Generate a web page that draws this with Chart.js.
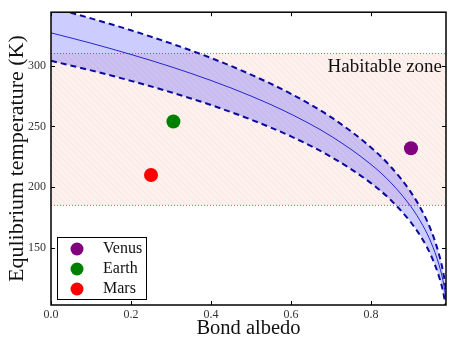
<!DOCTYPE html>
<html>
<head>
<meta charset="utf-8">
<script src="https://cdn.jsdelivr.net/npm/chart.js@4"></script>
<style>
  html, body { margin: 0; padding: 0; background: #fff; }
  #wrap { width: 460px; height: 347px; }
</style>
</head>
<body>
<div id="wrap"><canvas id="chartAlbedo"></canvas></div>
<script>
// data
const albedo   = [0, 0.1, 0.2, 0.3, 0.4, 0.5, 0.6, 0.7, 0.8, 0.85, 0.9, 0.93, 0.95, 0.97, 0.98, 0.99];
const tempMid  = [327, 318.5, 309.2, 299.1, 287.8, 275.0, 260.1, 242.0, 218.7, 203.5, 183.9, 168.2, 154.6, 136.1, 123.0, 103.4];
const tempLow  = [304, 296.1, 287.5, 278.1, 267.6, 255.6, 241.8, 225.0, 203.3, 189.2, 170.9, 156.4, 143.8, 126.5, 114.3, 96.1];
const tempHigh = [348, 338.9, 329.1, 318.3, 306.3, 292.6, 276.8, 257.6, 232.7, 216.6, 195.7, 179.0, 164.6, 144.8, 130.9, 110.0];

const habitable = [185, 310]; // K
const planets = ['Venus', 'Earth', 'Mars'];
const planetAlbedo = [0.9, 0.306, 0.25];
const planetTemp = [232, 254, 210];
const planetColors = ['#800080', '#008000', '#ff0000'];

const xRange = [0, 0.9875];
const yRange = [103, 344];
const xTicks = [0.0, 0.2, 0.4, 0.6, 0.8];
const yTicks = [150, 200, 250, 300];

const serif = '"Liberation Serif", "DejaVu Serif", serif';

function xy(xs, ys) { return xs.map((v, i) => ({ x: v, y: ys[i] })); }

// faint diagonal hatch for the habitable zone
function hatch() {
  const c = document.createElement('canvas');
  c.width = 6; c.height = 6;
  const g = c.getContext('2d');
  g.fillStyle = '#fdf1ee';
  g.fillRect(0, 0, 6, 6);
  g.strokeStyle = 'rgba(235,180,170,0.2)';
  g.lineWidth = 1;
  g.beginPath(); g.moveTo(-1, -1); g.lineTo(7, 7); g.stroke();
  return g.createPattern(c, 'repeat');
}

const decor = {
  id: 'decor',
  afterDatasetsDraw(chart) {
    const { ctx, chartArea: a, scales: { x, y } } = chart;
    ctx.save();
    // label
    ctx.font = '19px ' + serif;
    ctx.fillStyle = '#111';
    ctx.textAlign = 'right';
    ctx.textBaseline = 'middle';
    ctx.fillText('Habitable zone', a.right - 4, y.getPixelForValue(habitable[1]) + 14);

    // inward ticks
    ctx.strokeStyle = '#000';
    ctx.lineWidth = 1;
    ctx.beginPath();
    xTicks.forEach(v => {
      const px = Math.round(x.getPixelForValue(v)) + 0.5;
      ctx.moveTo(px, a.bottom); ctx.lineTo(px, a.bottom - 4);
      ctx.moveTo(px, a.top); ctx.lineTo(px, a.top + 4);
    });
    yTicks.forEach(v => {
      const py = Math.round(y.getPixelForValue(v)) + 0.5;
      ctx.moveTo(a.left, py); ctx.lineTo(a.left + 4, py);
      ctx.moveTo(a.right, py); ctx.lineTo(a.right - 4, py);
    });
    ctx.stroke();

    // frame
    ctx.lineWidth = 1.5;
    ctx.strokeRect(a.left, a.top, a.right - a.left, a.bottom - a.top);

    // legend box, lower left
    const bx = a.left + 6, bw = 89, bh = 62, by = a.bottom - 6 - bh;
    ctx.fillStyle = '#fff';
    ctx.fillRect(bx, by, bw, bh);
    ctx.lineWidth = 1;
    ctx.strokeRect(bx + 0.5, by + 0.5, bw, bh);
    ctx.textAlign = 'left';
    ctx.font = '16px ' + serif;
    planets.forEach((p, i) => {
      const cy = by + 12 + i * 20;
      ctx.fillStyle = planetColors[i];
      ctx.beginPath(); ctx.arc(bx + 20, cy, 6.5, 0, Math.PI * 2); ctx.fill();
      ctx.fillStyle = '#111';
      ctx.fillText(p, bx + 46, cy);
    });
    ctx.restore();
  }
};

const ctx = document.getElementById('chartAlbedo');
new Chart(ctx, {
  type: 'scatter',
  data: {
    datasets: [
      ...planets.map((p, i) => ({
        label: p,
        data: [{ x: planetAlbedo[i], y: planetTemp[i] }],
        backgroundColor: planetColors[i],
        borderColor: planetColors[i],
        pointRadius: 7,
        borderWidth: 0,
        order: 0
      })),
      {
        label: 'T_eq',
        data: xy(albedo, tempMid),
        showLine: true,
        borderColor: '#2626cc',
        borderWidth: 1,
        pointRadius: 0,
        cubicInterpolationMode: 'monotone',
        order: 1
      },
      {
        label: 'upper',
        data: xy(albedo, tempHigh),
        showLine: true,
        borderColor: '#0a0aa0',
        borderWidth: 2,
        borderDash: [6, 4],
        pointRadius: 0,
        cubicInterpolationMode: 'monotone',
        order: 2
      },
      {
        label: 'lower',
        data: xy(albedo, tempLow),
        showLine: true,
        borderColor: '#0a0aa0',
        borderWidth: 2,
        borderDash: [6, 4],
        pointRadius: 0,
        cubicInterpolationMode: 'monotone',
        fill: '-1',
        backgroundColor: 'rgba(0,0,255,0.2)',
        order: 2
      },
      {
        label: 'hz top',
        data: xy(xRange, [habitable[1], habitable[1]]),
        showLine: true,
        borderColor: '#e05a5a',
        borderWidth: 1,
        borderDash: [1, 2],
        pointRadius: 0,
        order: 5
      },
      {
        label: 'hz bottom',
        data: xy(xRange, [habitable[0], habitable[0]]),
        showLine: true,
        borderColor: '#e05a5a',
        borderWidth: 1,
        borderDash: [1, 2],
        pointRadius: 0,
        fill: '-1',
        backgroundColor: hatch(),
        order: 5
      }
    ]
  },
  options: {
    responsive: true,
    maintainAspectRatio: false,
    animation: false,
    layout: { padding: { top: 11, right: 14, left: 0, bottom: 0 } },
    plugins: {
      legend: { display: false },
      tooltip: { enabled: false }
    },
    scales: {
      x: {
        type: 'linear',
        min: xRange[0],
        max: xRange[1],
        grid: { display: false, drawTicks: false },
        border: { display: false },
        afterBuildTicks: s => { s.ticks = xTicks.map(v => ({ value: v })); },
        afterFit: s => { s.height = 42; },
        ticks: {
          callback: v => v.toFixed(1),
          font: { family: serif, size: 12 },
          color: '#333',
          padding: 3,
          maxRotation: 0
        },
        title: {
          display: true,
          text: 'Bond albedo',
          font: { family: serif, size: 20.5 },
          color: '#111',
          padding: { top: 0, bottom: 6 }
        }
      },
      y: {
        min: yRange[0],
        max: yRange[1],
        grid: { display: false, drawTicks: false },
        border: { display: false },
        afterBuildTicks: s => { s.ticks = yTicks.map(v => ({ value: v })); },
        afterFit: s => { s.width = 51; },
        ticks: {
          font: { family: serif, size: 12 },
          color: '#333',
          padding: 5,
          crossAlign: 'near'
        },
        title: {
          display: true,
          text: 'Equlibrium temperature (K)',
          font: { family: serif, size: 22 },
          color: '#111',
          padding: { top: 4, bottom: 0 }
        }
      }
    }
  },
  plugins: [decor]
});
</script>
</body>
</html>
